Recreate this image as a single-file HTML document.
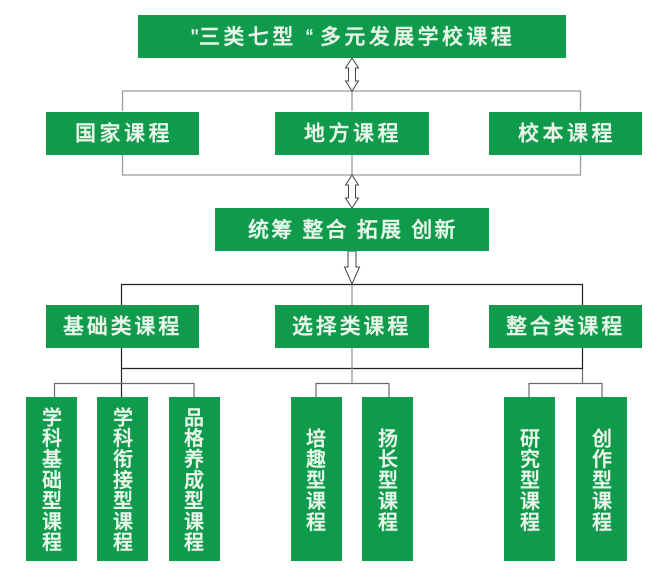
<!DOCTYPE html>
<html><head><meta charset="utf-8"><style>
html,body{margin:0;padding:0;background:#fff}
svg{display:block}
text{font-family:"Liberation Sans","Noto Sans CJK SC",sans-serif;font-weight:500;fill:#e9f6ea;stroke:#e9f6ea;stroke-width:.4;font-size:21px}
.c text{font-size:20px}
.b{fill:#0f9a4c}
.g{stroke:#9a9a9a;stroke-width:1.3;fill:none}
.k{stroke:#222;stroke-width:1.2;fill:none}
.d{stroke:#6a6a6a;stroke-width:1.2;fill:none}
.a{fill:#fff;stroke:#444;stroke-width:1}
</style></head><body>
<svg width="672" height="587" viewBox="0 0 672 587" xmlns="http://www.w3.org/2000/svg">
<rect width="672" height="587" fill="#fff"/>
<!-- connectors -->
<path class="g" d="M122.5 111V91H580.5V111M352 91V111M122.5 155V175H580.5V155M352 155V175"/>
<path class="k" d="M121.5 305V284.5H582.5V305M121.5 348V397M582.5 348V369M121.5 368.5H582.5"/>
<path class="g" d="M352 284.5V305M352 348V383"/>
<path class="d" d="M54.5 397V383.5H194V397M316 397V383.5H389V397M529 397V383.5H602V397M582.5 369V383.5"/>
<!-- arrows -->
<path class="a" d="M352 58L358.5 68H355.5V81H358.5L352 91L345.5 81H348.5V68H345.5Z"/>
<path class="a" d="M352 175L358.5 185H355.5V198H358.5L352 208L345.5 198H348.5V185H345.5Z"/>
<path class="a" d="M348 251H356V267H359.5L352 284L344.5 267H348Z"/>
<!-- boxes -->
<rect class="b" x="138" y="15" width="428" height="43"/>
<rect class="b" x="46" y="112" width="153" height="43"/>
<rect class="b" x="275" y="112" width="154" height="43"/>
<rect class="b" x="489" y="112" width="153" height="43"/>
<rect class="b" x="215" y="208" width="274" height="43"/>
<rect class="b" x="46" y="305" width="153" height="43"/>
<rect class="b" x="275" y="305" width="154" height="43"/>
<rect class="b" x="489" y="305" width="153" height="43"/>
<rect class="b" x="26" y="397" width="51" height="164"/>
<rect class="b" x="97" y="397" width="51" height="164"/>
<rect class="b" x="169" y="397" width="51" height="164"/>
<rect class="b" x="291" y="397" width="51" height="164"/>
<rect class="b" x="362" y="397" width="51" height="164"/>
<rect class="b" x="504" y="397" width="51" height="164"/>
<rect class="b" x="576" y="397" width="51" height="164"/>
<!-- horizontal labels -->
<text x="191" y="44">"</text>
<text x="199" y="44" letter-spacing="3.4">三类七型</text>
<text x="306" y="44">“</text>
<text x="320" y="44" letter-spacing="3.4">多元发展学校课程</text>
<text x="75" y="140.5" letter-spacing="3.5">国家课程</text>
<text x="304" y="140.5" letter-spacing="3.5">地方课程</text>
<text x="518" y="140.5" letter-spacing="3.5">校本课程</text>
<text x="248" y="237" letter-spacing="2.2">统筹 整合 拓展 创新</text>
<text x="63" y="333.5" letter-spacing="2.8">基础类课程</text>
<text x="292" y="333.5" letter-spacing="2.8">选择类课程</text>
<text x="506" y="333.5" letter-spacing="2.8">整合类课程</text>
<!-- columns -->
<g class="c" text-anchor="middle">
<text x="52" y="424.5">学</text><text x="52" y="445">科</text><text x="52" y="466">基</text><text x="52" y="487">础</text><text x="52" y="507.5">型</text><text x="52" y="528.5">课</text><text x="52" y="549">程</text>
<text x="123" y="424.5">学</text><text x="123" y="445">科</text><text x="123" y="466">衔</text><text x="123" y="487">接</text><text x="123" y="507.5">型</text><text x="123" y="528.5">课</text><text x="123" y="549">程</text>
<text x="194" y="424.5">品</text><text x="194" y="445">格</text><text x="194" y="466">养</text><text x="194" y="487">成</text><text x="194" y="507.5">型</text><text x="194" y="528.5">课</text><text x="194" y="549">程</text>
<text x="316" y="445.5">培</text><text x="316" y="466">趣</text><text x="316" y="487">型</text><text x="316" y="508">课</text><text x="316" y="529">程</text>
<text x="388" y="445.5">扬</text><text x="388" y="466">长</text><text x="388" y="487">型</text><text x="388" y="508">课</text><text x="388" y="529">程</text>
<text x="530" y="445.5">研</text><text x="530" y="466">究</text><text x="530" y="487">型</text><text x="530" y="508">课</text><text x="530" y="529">程</text>
<text x="602" y="445.5">创</text><text x="602" y="466">作</text><text x="602" y="487">型</text><text x="602" y="508">课</text><text x="602" y="529">程</text>
</g>
</svg>
</body></html>
